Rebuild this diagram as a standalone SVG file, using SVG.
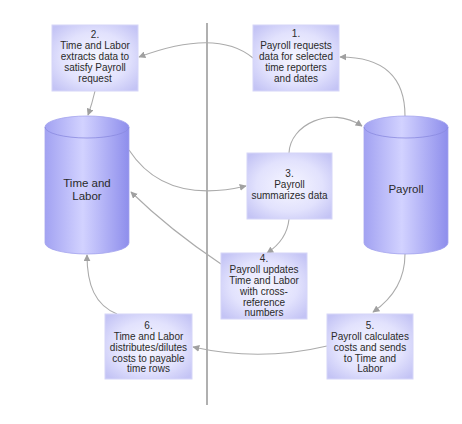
<svg xmlns="http://www.w3.org/2000/svg" width="462" height="424" viewBox="0 0 462 424">
<defs>
<radialGradient id="boxg" cx="50%" cy="50%" r="65%">
<stop offset="0%" stop-color="#f6f6ff"/>
<stop offset="60%" stop-color="#e2e2fd"/>
<stop offset="100%" stop-color="#c4c4f5"/>
</radialGradient>
<linearGradient id="cylg" x1="0" y1="0" x2="1" y2="0">
<stop offset="0%" stop-color="#a2a2f2"/>
<stop offset="45%" stop-color="#d2d2ff"/>
<stop offset="100%" stop-color="#8e8eec"/>
</linearGradient>
<marker id="ah" viewBox="0 0 10 10" refX="9" refY="5" markerWidth="7" markerHeight="7" markerUnits="userSpaceOnUse" orient="auto">
<path d="M0,0 L10,5 L0,10 Z" fill="#a0a0a0"/>
</marker>
</defs>
<style>
.box{fill:url(#boxg);stroke:#d6d6f8;stroke-width:1}
.cyl{fill:url(#cylg);stroke:#a4a4ee;stroke-width:0.8}
.lip{fill:none;stroke:#8a8ae0;stroke-width:0.8}
.t{font-family:"Liberation Sans",Arial,sans-serif;font-size:10px;fill:#2a2a2a;text-anchor:middle}
.ct{font-family:"Liberation Sans",Arial,sans-serif;font-size:11.5px;fill:#2a2a2a;text-anchor:middle}
.c{fill:none;stroke:#ababab;stroke-width:1.1;marker-end:url(#ah)}
</style>
<rect width="462" height="424" fill="#ffffff"/>
<line x1="207" y1="23" x2="207" y2="405" stroke="#b0b0b0" stroke-width="2"/>

<g id="connectors">
<path class="c" d="M405,116 C405,78 385,57 340,57"/>
<path class="c" d="M253,58 Q217,28 139,57"/>
<path class="c" d="M95,91 Q92,104 88,115"/>
<path class="c" d="M129,150 Q165,205 246,186"/>
<path class="c" d="M289,153 C290,125 330,105 362,126"/>
<path class="c" d="M289,219 Q287,240 267,253"/>
<path class="c" d="M221,264 Q170,230 131,192"/>
<path class="c" d="M405,254 Q405,290 373,312"/>
<path class="c" d="M327,346 Q260,362 193,347"/>
<path class="c" d="M117,314 C95,305 87,285 87,255"/>
</g>

<g id="timeandlabor">
<path class="cyl" d="M45,127 A42,11 0 0 1 129,127 L129,243 A42,11 0 0 1 45,243 Z"/>
<path class="lip" d="M45,127 A42,11 0 0 0 129,127"/>
<text class="ct" x="87" y="187">Time and</text>
<text class="ct" x="87" y="200">Labor</text>
</g>

<g id="payroll">
<path class="cyl" d="M364,127 A42,11 0 0 1 448,127 L448,243 A42,11 0 0 1 364,243 Z"/>
<path class="lip" d="M364,127 A42,11 0 0 0 448,127"/>
<text class="ct" x="406" y="193">Payroll</text>
</g>

<g id="step1">
<rect class="box" x="253" y="25" width="86" height="66"/>
<text class="t" x="296" y="37">1.</text>
<text class="t" x="296" y="49">Payroll requests</text>
<text class="t" x="296" y="60">data for selected</text>
<text class="t" x="296" y="71">time reporters</text>
<text class="t" x="296" y="82">and dates</text>
</g>

<g id="step2">
<rect class="box" x="52" y="25" width="86" height="66"/>
<text class="t" x="95" y="38">2.</text>
<text class="t" x="95" y="49">Time and Labor</text>
<text class="t" x="95" y="60">extracts data to</text>
<text class="t" x="95" y="71">satisfy Payroll</text>
<text class="t" x="95" y="82">request</text>
</g>

<g id="step3">
<rect class="box" x="247" y="153" width="85" height="66"/>
<text class="t" x="289.5" y="177">3.</text>
<text class="t" x="289.5" y="188">Payroll</text>
<text class="t" x="289.5" y="199">summarizes data</text>
</g>

<g id="step4">
<rect class="box" x="221" y="253" width="86" height="66"/>
<text class="t" x="264" y="261.5">4.</text>
<text class="t" x="264" y="272.5">Payroll updates</text>
<text class="t" x="264" y="283.5">Time and Labor</text>
<text class="t" x="264" y="294.5">with cross-</text>
<text class="t" x="264" y="305.5">reference</text>
<text class="t" x="264" y="316">numbers</text>
</g>

<g id="step5">
<rect class="box" x="327" y="314" width="86" height="65"/>
<text class="t" x="370" y="328.5">5.</text>
<text class="t" x="370" y="339.5">Payroll calculates</text>
<text class="t" x="370" y="350.5">costs and sends</text>
<text class="t" x="370" y="361.5">to Time and</text>
<text class="t" x="370" y="372">Labor</text>
</g>

<g id="step6">
<rect class="box" x="105" y="314" width="87" height="65"/>
<text class="t" x="148.5" y="328.5">6.</text>
<text class="t" x="148.5" y="339.5">Time and Labor</text>
<text class="t" x="148.5" y="350.5">distributes/dilutes</text>
<text class="t" x="148.5" y="361.5">costs to payable</text>
<text class="t" x="148.5" y="372">time rows</text>
</g>
</svg>
